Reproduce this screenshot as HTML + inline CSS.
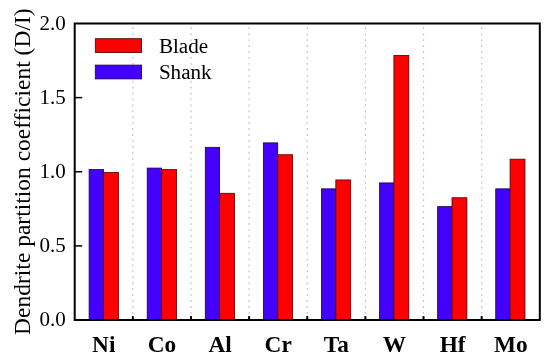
<!DOCTYPE html>
<html><head><meta charset="utf-8"><title>Dendrite partition coefficient</title>
<style>html,body{margin:0;padding:0;background:#fff;}svg{display:block;font-family:"Liberation Serif",serif;}</style></head><body>
<svg width="550" height="362" viewBox="0 0 550 362">
<rect width="550" height="362" fill="#fff"/>
<line x1="132.84" y1="27.3" x2="132.84" y2="318.0" stroke="#c4c4c4" stroke-width="1.2" stroke-dasharray="1.9 4.03"/>
<line x1="190.97" y1="27.3" x2="190.97" y2="318.0" stroke="#c4c4c4" stroke-width="1.2" stroke-dasharray="1.9 4.03"/>
<line x1="249.11" y1="27.3" x2="249.11" y2="318.0" stroke="#c4c4c4" stroke-width="1.2" stroke-dasharray="1.9 4.03"/>
<line x1="307.25" y1="27.3" x2="307.25" y2="318.0" stroke="#c4c4c4" stroke-width="1.2" stroke-dasharray="1.9 4.03"/>
<line x1="365.39" y1="27.3" x2="365.39" y2="318.0" stroke="#c4c4c4" stroke-width="1.2" stroke-dasharray="1.9 4.03"/>
<line x1="423.52" y1="27.3" x2="423.52" y2="318.0" stroke="#c4c4c4" stroke-width="1.2" stroke-dasharray="1.9 4.03"/>
<line x1="481.66" y1="27.3" x2="481.66" y2="318.0" stroke="#c4c4c4" stroke-width="1.2" stroke-dasharray="1.9 4.03"/>
<rect x="89.12" y="169.57" width="14.35" height="150.43" fill="#4400ff" stroke="#14004a" stroke-width="0.8"/>
<rect x="103.47" y="172.53" width="14.90" height="147.47" fill="#ff0000" stroke="#4a0000" stroke-width="0.8"/>
<rect x="147.21" y="168.09" width="14.35" height="151.91" fill="#4400ff" stroke="#14004a" stroke-width="0.8"/>
<rect x="161.56" y="169.57" width="14.90" height="150.43" fill="#ff0000" stroke="#4a0000" stroke-width="0.8"/>
<rect x="205.29" y="147.33" width="14.35" height="172.67" fill="#4400ff" stroke="#14004a" stroke-width="0.8"/>
<rect x="219.64" y="193.29" width="14.90" height="126.71" fill="#ff0000" stroke="#4a0000" stroke-width="0.8"/>
<rect x="263.38" y="142.88" width="14.35" height="177.12" fill="#4400ff" stroke="#14004a" stroke-width="0.8"/>
<rect x="277.73" y="154.74" width="14.90" height="165.26" fill="#ff0000" stroke="#4a0000" stroke-width="0.8"/>
<rect x="321.47" y="188.84" width="14.35" height="131.16" fill="#4400ff" stroke="#14004a" stroke-width="0.8"/>
<rect x="335.82" y="179.95" width="14.90" height="140.05" fill="#ff0000" stroke="#4a0000" stroke-width="0.8"/>
<rect x="379.56" y="182.91" width="14.35" height="137.09" fill="#4400ff" stroke="#14004a" stroke-width="0.8"/>
<rect x="393.91" y="55.42" width="14.90" height="264.58" fill="#ff0000" stroke="#4a0000" stroke-width="0.8"/>
<rect x="437.64" y="206.63" width="14.35" height="113.37" fill="#4400ff" stroke="#14004a" stroke-width="0.8"/>
<rect x="451.99" y="197.74" width="14.90" height="122.26" fill="#ff0000" stroke="#4a0000" stroke-width="0.8"/>
<rect x="495.73" y="188.84" width="14.35" height="131.16" fill="#4400ff" stroke="#14004a" stroke-width="0.8"/>
<rect x="510.08" y="159.19" width="14.90" height="160.81" fill="#ff0000" stroke="#4a0000" stroke-width="0.8"/>
<line x1="132.84" y1="320.0" x2="132.84" y2="316.10" stroke="#000" stroke-width="2"/>
<line x1="190.97" y1="320.0" x2="190.97" y2="316.10" stroke="#000" stroke-width="2"/>
<line x1="249.11" y1="320.0" x2="249.11" y2="316.10" stroke="#000" stroke-width="2"/>
<line x1="307.25" y1="320.0" x2="307.25" y2="316.10" stroke="#000" stroke-width="2"/>
<line x1="365.39" y1="320.0" x2="365.39" y2="316.10" stroke="#000" stroke-width="2"/>
<line x1="423.52" y1="320.0" x2="423.52" y2="316.10" stroke="#000" stroke-width="2"/>
<line x1="481.66" y1="320.0" x2="481.66" y2="316.10" stroke="#000" stroke-width="2"/>
<line x1="74.7" y1="245.88" x2="82.2" y2="245.88" stroke="#000" stroke-width="1.5"/>
<line x1="74.7" y1="171.75" x2="82.2" y2="171.75" stroke="#000" stroke-width="1.5"/>
<line x1="74.7" y1="97.62" x2="82.2" y2="97.62" stroke="#000" stroke-width="1.5"/>
<rect x="74.7" y="23.5" width="465.10" height="296.5" fill="none" stroke="#000" stroke-width="2"/>
<text x="65.8" y="325.70" font-size="21" text-anchor="end" fill="#000">0.0</text>
<text x="65.8" y="251.72" font-size="21" text-anchor="end" fill="#000">0.5</text>
<text x="65.8" y="177.75" font-size="21" text-anchor="end" fill="#000">1.0</text>
<text x="65.8" y="103.77" font-size="21" text-anchor="end" fill="#000">1.5</text>
<text x="65.8" y="29.80" font-size="21" text-anchor="end" fill="#000">2.0</text>
<text x="103.77" y="352.3" font-size="23.3" font-weight="bold" text-anchor="middle" fill="#000">Ni</text>
<text x="161.91" y="352.3" font-size="23.3" font-weight="bold" text-anchor="middle" fill="#000">Co</text>
<text x="220.04" y="352.3" font-size="23.3" font-weight="bold" text-anchor="middle" fill="#000">Al</text>
<text x="278.18" y="352.3" font-size="23.3" font-weight="bold" text-anchor="middle" fill="#000">Cr</text>
<text x="336.32" y="352.3" font-size="23.3" font-weight="bold" text-anchor="middle" fill="#000">Ta</text>
<text x="394.46" y="352.3" font-size="23.3" font-weight="bold" text-anchor="middle" fill="#000">W</text>
<text x="452.59" y="352.3" font-size="23.3" font-weight="bold" text-anchor="middle" fill="#000">Hf</text>
<text x="510.73" y="352.3" font-size="23.3" font-weight="bold" text-anchor="middle" fill="#000">Mo</text>
<text transform="translate(30.2,334.9) rotate(-90)" font-size="23.5" text-anchor="start" fill="#000">Dendrite partition coefficient (D/I)</text>
<rect x="95.3" y="38.7" width="46.3" height="13.8" fill="#ff0000" stroke="#4a0000" stroke-width="0.8"/>
<rect x="95.3" y="65.1" width="46.3" height="13.8" fill="#4400ff" stroke="#14004a" stroke-width="0.8"/>
<text x="158.9" y="52.6" font-size="21.1" fill="#000">Blade</text>
<text x="158.9" y="78.8" font-size="21.1" fill="#000">Shank</text>
</svg></body></html>
